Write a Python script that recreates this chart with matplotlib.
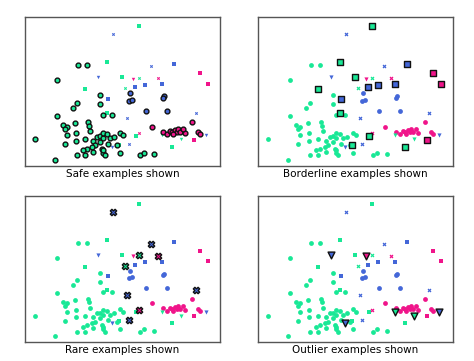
import matplotlib
matplotlib.use("Agg")
import matplotlib.pyplot as plt

# ---- data (arbitrary 2-D feature space) ----
green_safe_x = [160,187,97,225,155,143,225,233,260,95,115,125,120,150,190,193,30,125,153,195,
                180,205,215,225,235,225,210,200,185,175,155,180,205,230,235,250,255,285,275,285,
                90,120,153,235,247,267,293,233,240,345,357,388]
green_safe_y = [297,297,253,208,186,171,181,151,151,148,121,116,109,126,129,119,78,91,96,103,
                78,74,86,88,81,71,61,56,51,46,31,31,41,51,38,66,81,98,61,38,
                19,64,74,96,93,86,91,46,31,31,39,34]
blue_safe_x = [315,313,320,417,414,363,427]
blue_safe_y = [214,191,194,205,200,162,162]
pink_safe_x = [380,500,415,425,435,442,450,455,460,465,480,520,525,445,475]
pink_safe_y = [116,129,101,93,103,99,106,99,109,99,96,99,93,93,109]

green_border_x = [343,247,290,181,246,334,281,440]
green_border_y = [413,305,261,225,157,89,63,56]
blue_border_x = [448,329,360,411,250]
blue_border_y = [301,231,239,241,197]
pink_border_x = [524,549,508]
pink_border_y = [273,242,77]

green_rare_x = [343,300]
green_rare_y = [260,228]
blue_rare_x = [263,378,305,514,313]
blue_rare_y = [389,294,140,155,65]
pink_rare_x = [398,343]
pink_rare_y = [259,97]

green_out_x = [410,469]
green_out_y = [91,79]
blue_out_x = [219,543,260]
blue_out_y = [261,91,57]
pink_out_x = [324]
pink_out_y = [257]

panel_titles = ["Safe examples shown", "Borderline examples shown",
                "Rare examples shown", "Outlier examples shown"]
types = ["safe", "borderline", "rare", "outlier"]

GREEN, BLUE, PINK = "#19E896", "#4467D8", "#F0148A"

groups = {
    "safe": [(green_safe_x, green_safe_y, GREEN), (blue_safe_x, blue_safe_y, BLUE),
             (pink_safe_x, pink_safe_y, PINK)],
    "borderline": [(green_border_x, green_border_y, GREEN), (blue_border_x, blue_border_y, BLUE),
                   (pink_border_x, pink_border_y, PINK)],
    "rare": [(green_rare_x, green_rare_y, GREEN), (blue_rare_x, blue_rare_y, BLUE),
             (pink_rare_x, pink_rare_y, PINK)],
    "outlier": [(green_out_x, green_out_y, GREEN), (blue_out_x, blue_out_y, BLUE),
                (pink_out_x, pink_out_y, PINK)],
}
markers = {"safe": "o", "borderline": "s", "rare": "X", "outlier": "v"}
base_size = {"safe": 12, "borderline": 10, "rare": 8, "outlier": 9}
hi_size = {"safe": 12, "borderline": 19, "rare": 21, "outlier": 24}

fig = plt.figure(figsize=(4.74, 3.61), dpi=100)
positions = [
    [25/474, 1-166/361, 195/474, 149/361],
    [258/474, 1-166/361, 195/474, 149/361],
    [25/474, 1-342/361, 195/474, 146/361],
    [258/474, 1-342/361, 195/474, 146/361],
]

for i, (pos, title, shown) in enumerate(zip(positions, panel_titles, types)):
    ax = fig.add_axes(pos)
    for t in types:
        if t == shown:
            continue
        scale = 0.65 if i == 0 else 1.0
        for xs, ys, c in groups[t]:
            ax.scatter(xs, ys, s=base_size[t]*scale, marker=markers[t], color=c,
                       linewidths=0, zorder=2)
    for xs, ys, c in groups[shown]:
        ax.scatter(xs, ys, s=hi_size[shown], marker=markers[shown], facecolor=c,
                   edgecolor="#111111", linewidths=1.0, zorder=3)
    ax.set_xlim(0, 585)
    ax.set_ylim(0, 438)
    ax.set_xticks([])
    ax.set_yticks([])
    for sp in ax.spines.values():
        sp.set_color("#555555")
        sp.set_linewidth(1.0)
    ax.set_xlabel(title, fontsize=7.5, labelpad=2)

fig.savefig("out.png", dpi=100)
